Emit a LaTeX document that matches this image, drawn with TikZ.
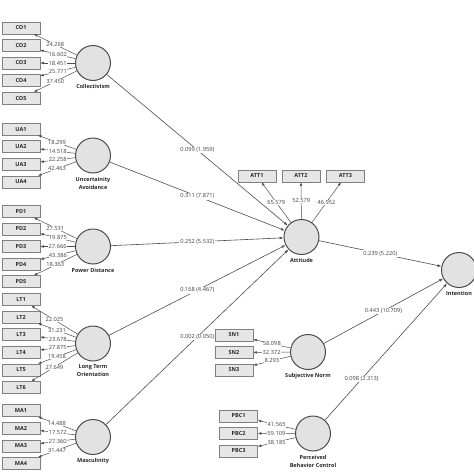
\documentclass[tikz,border=0pt]{standalone}
\usepackage{fontspec}
\setmainfont{Open Sans}
\usetikzlibrary{arrows.meta}

\definecolor{lvfill}{HTML}{E2E2E2}
\definecolor{mvfill}{HTML}{E6E6E6}

\begin{document}
\begin{tikzpicture}[x=1pt, y=-1pt,
    latent/.style={circle, draw=black!70, line width=1pt, fill=lvfill, minimum size=35pt, inner sep=0pt, label distance=2.5pt},
    cname/.style={font=\fontsize{5.5}{7.8}\selectfont\bfseries, text=black!85, align=center},
    indicator/.style={rectangle, draw=black!50, line width=0.5pt, fill=mvfill, minimum width=38pt, minimum height=12pt, inner sep=0pt, font=\fontsize{5.5}{6}\selectfont\bfseries, text=black!85},
    load/.style={-{Latex[length=3.5pt,width=2.6pt]}, draw=black!70, line width=0.5pt},
    struct/.style={-{Latex[length=3.8pt,width=2.8pt]}, draw=black!70, line width=0.6pt},
    lval/.style={fill=white, inner sep=0.4pt, text=black!75, font=\fontsize{5.7}{6}\selectfont},
    pval/.style={fill=white, inner sep=0.8pt, text=black!75, font=\fontsize{5.7}{6}\selectfont}]
    \useasboundingbox (0,0) rectangle (474,474);

    % latent variables
    \node [latent, label={[cname]below:{Collectivism}}] (CO) at (93,63) {};
    \node [latent, label={[cname]below:{Uncertainity\\Avoidance}}] (UA) at (93,155.5) {};
    \node [latent, label={[cname]below:{Power Distance}}] (PD) at (93,246.5) {};
    \node [latent, label={[cname]below:{Long Term\\Orientation}}] (LT) at (93,343.5) {};
    \node [latent, label={[cname]below:{Masculinity}}] (MA) at (93,437) {};
    \node [latent, label={[cname]below:{Attitude}}] (ATT) at (301.5,237) {};
    \node [latent, label={[cname]below:{Intention}}] (INT) at (459,270) {};
    \node [latent, label={[cname]below:{Subjective Norm}}] (SN) at (308,352) {};
    \node [latent, label={[cname]below:{Perceived\\Behavior Control}}] (PBC) at (313,433.5) {};

    % indicators
    \node [indicator] (CO1) at (21,27.8) {CO1};
    \node [indicator] (CO2) at (21,45.4) {CO2};
    \node [indicator] (CO3) at (21,63) {CO3};
    \node [indicator] (CO4) at (21,80.6) {CO4};
    \node [indicator] (CO5) at (21,98.2) {CO5};

    \node [indicator] (UA1) at (21,129.1) {UA1};
    \node [indicator] (UA2) at (21,146.7) {UA2};
    \node [indicator] (UA3) at (21,164.3) {UA3};
    \node [indicator] (UA4) at (21,181.9) {UA4};

    \node [indicator] (PD1) at (21,211.3) {PD1};
    \node [indicator] (PD2) at (21,228.9) {PD2};
    \node [indicator] (PD3) at (21,246.5) {PD3};
    \node [indicator] (PD4) at (21,264.1) {PD4};
    \node [indicator] (PD5) at (21,281.7) {PD5};

    \node [indicator] (LT1) at (21,299.5) {LT1};
    \node [indicator] (LT2) at (21,317.1) {LT2};
    \node [indicator] (LT3) at (21,334.7) {LT3};
    \node [indicator] (LT4) at (21,352.3) {LT4};
    \node [indicator] (LT5) at (21,369.9) {LT5};
    \node [indicator] (LT6) at (21,387.5) {LT6};

    \node [indicator] (MA1) at (21,410.6) {MA1};
    \node [indicator] (MA2) at (21,428.2) {MA2};
    \node [indicator] (MA3) at (21,445.8) {MA3};
    \node [indicator] (MA4) at (21,463.4) {MA4};

    \node [indicator] (ATT1) at (257,176) {ATT1};
    \node [indicator] (ATT2) at (301,176) {ATT2};
    \node [indicator] (ATT3) at (345.5,176) {ATT3};

    \node [indicator] (SN1) at (234,335) {SN1};
    \node [indicator] (SN2) at (234,352.5) {SN2};
    \node [indicator] (SN3) at (234,370) {SN3};

    \node [indicator] (PBC1) at (238.5,415.8) {PBC1};
    \node [indicator] (PBC2) at (238.5,433.4) {PBC2};
    \node [indicator] (PBC3) at (238.5,451) {PBC3};

    % outer loadings
    \draw [load] (CO) -- node [lval] {24.268} (CO1);
    \draw [load] (CO) -- node [lval] {16.602} (CO2);
    \draw [load] (CO) -- node [lval] {18.451} (CO3);
    \draw [load] (CO) -- node [lval] {25.771} (CO4);
    \draw [load] (CO) -- node [lval] {37.450} (CO5);

    \draw [load] (UA) -- node [lval] {18.299} (UA1);
    \draw [load] (UA) -- node [lval] {14.518} (UA2);
    \draw [load] (UA) -- node [lval] {22.258} (UA3);
    \draw [load] (UA) -- node [lval] {42.463} (UA4);

    \draw [load] (PD) -- node [lval] {27.531} (PD1);
    \draw [load] (PD) -- node [lval] {19.875} (PD2);
    \draw [load] (PD) -- node [lval] {27.666} (PD3);
    \draw [load] (PD) -- node [lval] {43.386} (PD4);
    \draw [load] (PD) -- node [lval] {18.363} (PD5);

    \draw [load] (LT) -- node [lval] {22.025} (LT1);
    \draw [load] (LT) -- node [lval] {31.231} (LT2);
    \draw [load] (LT) -- node [lval] {23.678} (LT3);
    \draw [load] (LT) -- node [lval] {27.875} (LT4);
    \draw [load] (LT) -- node [lval] {19.458} (LT5);
    \draw [load] (LT) -- node [lval] {27.649} (LT6);

    \draw [load] (MA) -- node [lval] {14.488} (MA1);
    \draw [load] (MA) -- node [lval] {17.572} (MA2);
    \draw [load] (MA) -- node [lval] {27.360} (MA3);
    \draw [load] (MA) -- node [lval] {31.447} (MA4);

    \draw [load] (ATT) -- node [lval] {65.579} (ATT1);
    \draw [load] (ATT) -- node [lval] {52.579} (ATT2);
    \draw [load] (ATT) -- node [lval] {46.952} (ATT3);

    \draw [load] (SN) -- node [lval] {58.098} (SN1);
    \draw [load] (SN) -- node [lval] {32.372} (SN2);
    \draw [load] (SN) -- node [lval] {8.293} (SN3);

    \draw [load] (PBC) -- node [lval] {41.565} (PBC1);
    \draw [load] (PBC) -- node [lval] {59.109} (PBC2);
    \draw [load] (PBC) -- node [lval] {38.185} (PBC3);

    % path coefficients
    \draw [struct] (CO) -- node [pval] {0.099 (1.959)} (ATT);
    \draw [struct] (UA) -- node [pval] {0.311 (7.871)} (ATT);
    \draw [struct] (PD) -- node [pval] {0.252 (5.532)} (ATT);
    \draw [struct] (LT) -- node [pval] {0.168 (4.467)} (ATT);
    \draw [struct] (MA) -- node [pval] {0.002 (0.050)} (ATT);
    \draw [struct] (ATT) -- node [pval] {0.239 (5.220)} (INT);
    \draw [struct] (SN) -- node [pval] {0.443 (10.709)} (INT);
    \draw [struct] (PBC) -- node [pval, pos=0.3] {0.098 (2.313)} (INT);
\end{tikzpicture}
\end{document}
